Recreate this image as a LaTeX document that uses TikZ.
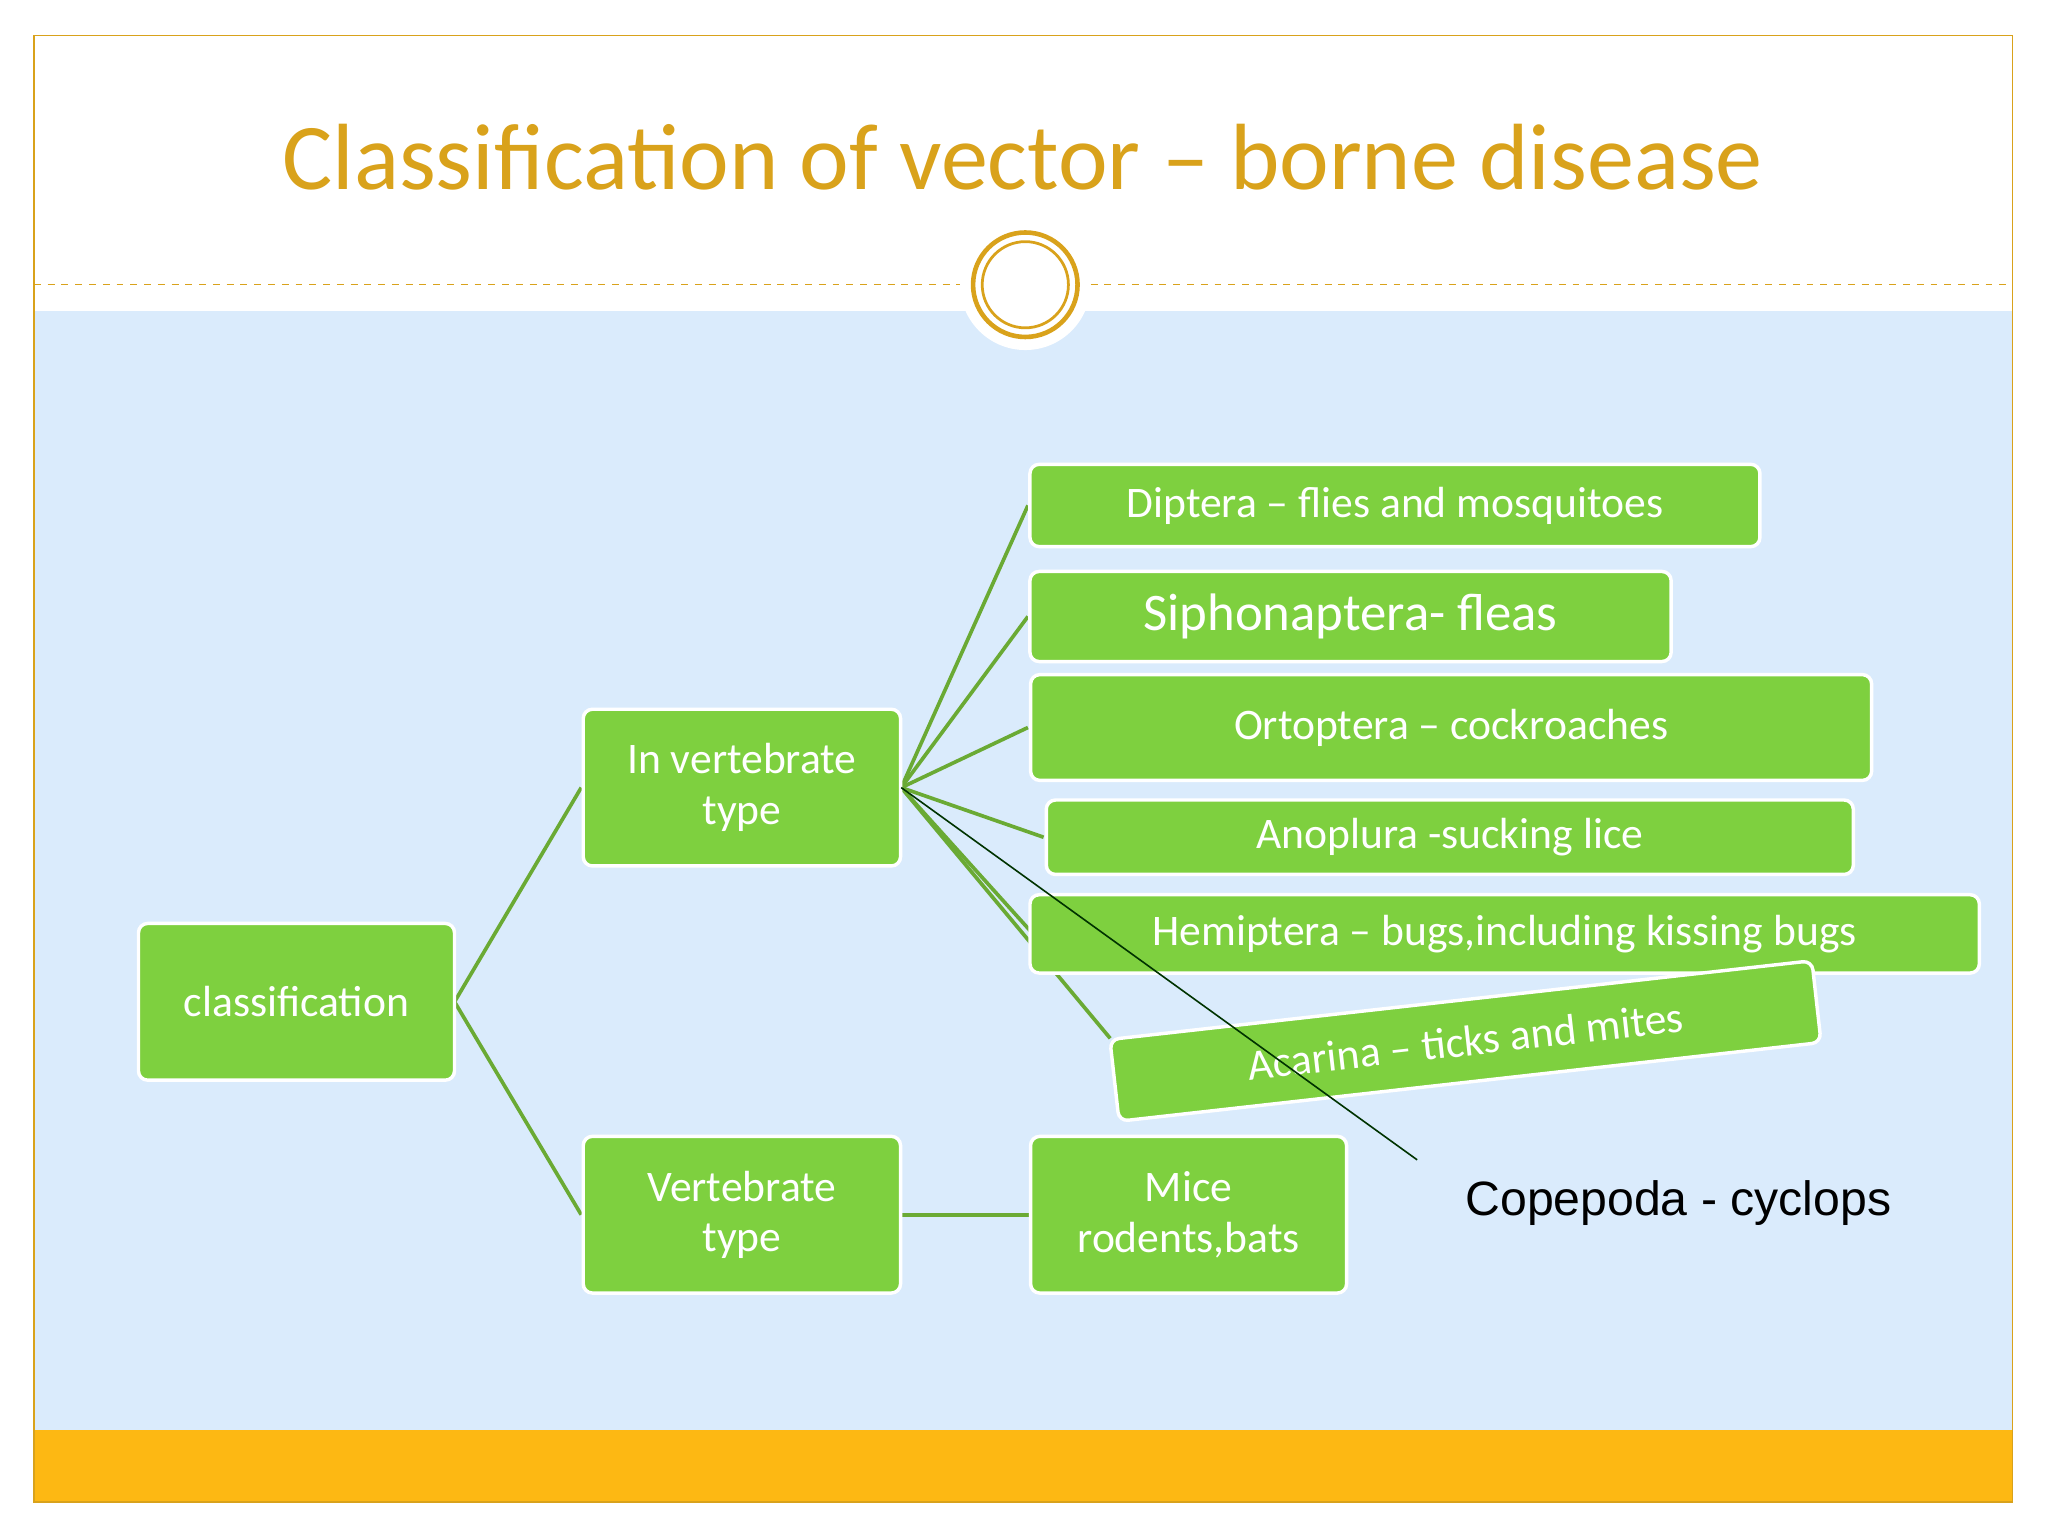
\documentclass[tikz,border=0pt]{standalone}
\usepackage{fontspec}
\setmainfont{Carlito}
\newfontfamily\arialf{Liberation Sans}
\begin{document}
\begin{tikzpicture}[x=0.02cm,y=-0.02cm]
\definecolor{gold}{HTML}{D9A21B}
\definecolor{bluebg}{HTML}{DAEBFC}
\definecolor{barc}{HTML}{FDB813}
\definecolor{boxg}{HTML}{7ED03F}
\definecolor{lineg}{HTML}{6AAA34}
\tikzset{
 box/.style={draw=white,line width=1.5pt,fill=boxg,rounded corners=4pt,text=white,font=\fontsize{19}{22}\selectfont,align=center,inner sep=0pt},
 conn/.style={draw=lineg,line width=1.6pt}
}
\useasboundingbox (0,0) rectangle (1568,1176);
\fill[white] (0,0) rectangle (1568,1176);
\fill[bluebg] (26,238) rectangle (1541,1095);
\fill[barc] (26,1095) rectangle (1541,1150);
\draw[gold,line width=0.6pt] (26,27) rectangle (1541,1150);
\node[text=gold,font=\fontsize{41}{48}\selectfont] (title) at (783,120) {Classification of vector -- borne disease};
\draw[gold,dashed,line width=0.5pt] (26,218) -- (735,218);
\draw[gold,dashed,line width=0.5pt] (835,218) -- (1541,218);
\fill[white] (785,218) circle (50);
\draw[gold,line width=2pt] (785,218) circle (40);
\draw[gold,line width=1.2pt] (785,218) circle (33);

\coordinate (cl) at (348,767);
\coordinate (iv) at (690,603);
\coordinate (cope) at (1085,888);
\draw[conn] (cl) -- (445,603);
\draw[conn] (cl) -- (445,930);
\draw[conn] (iv) -- (787,387);
\draw[conn] (iv) -- (787,472);
\draw[conn] (iv) -- (787,557);
\draw[conn] (iv) -- (799,641);
\draw[conn] (iv) -- (790,714);
\draw[conn] (iv) -- (850,795);
\draw[conn] (690,930) -- (789,930);

\node[box,minimum width=4.84cm,minimum height=2.4cm] (clas) at (227,767) {classification};
\node[box,minimum width=4.86cm,minimum height=2.4cm] (inv) at (568,603) {In vertebrate\\type};
\node[box,minimum width=4.86cm,minimum height=2.4cm] (ver) at (568,930) {Vertebrate\\type};
\node[box,minimum width=4.84cm,minimum height=2.4cm] (mice) at (910,930) {Mice\\rodents,bats};
\node[box,minimum width=11.18cm,minimum height=1.26cm] (dip) at (1068,387) {Diptera -- flies and mosquitoes};
\node[box,minimum width=9.82cm,minimum height=1.38cm,font=\fontsize{23}{26}\selectfont] (sip) at (1034,472) {Siphonaptera- fleas};
\node[box,minimum width=12.88cm,minimum height=1.62cm] (ort) at (1111,557) {Ortoptera -- cockroaches};
\node[box,minimum width=12.36cm,minimum height=1.14cm] (ano) at (1110,641) {Anoplura -sucking lice};
\node[box,minimum width=14.54cm,minimum height=1.2cm] (hem) at (1152,715) {Hemiptera -- bugs,including kissing bugs};
\node[box,minimum width=10.82cm,minimum height=1.26cm,rotate=6.4] (aca) at (1122,797) {Acarina -- ticks and mites};
\draw[black!80!green,line width=0.7pt] (iv) -- (cope);
\node[font=\arialf\fontsize{21}{25}\selectfont] (cop) at (1285,921) {Copepoda - cyclops};
\end{tikzpicture}
\end{document}
